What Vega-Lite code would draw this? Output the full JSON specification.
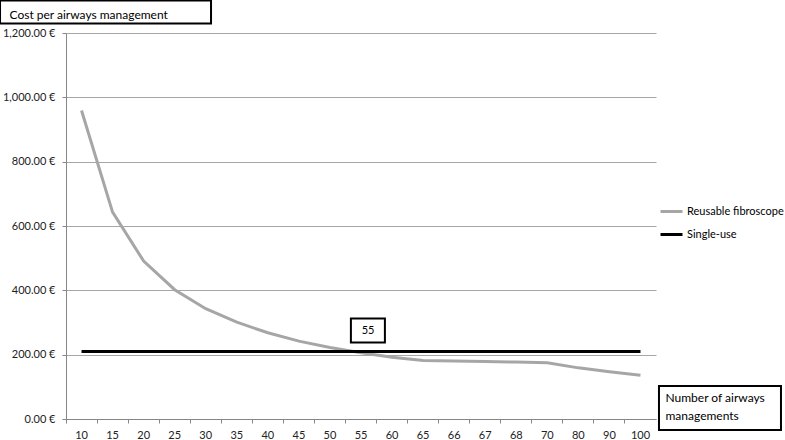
{
  "$schema": "https://vega.github.io/schema/vega-lite/v6.json",
  "width": 590,
  "height": 386,
  "autosize": {"type": "none"},
  "padding": {"left": 66, "top": 33, "right": 129, "bottom": 21},
  "background": "white",
  "data": {
    "values": [
      {"n": 10, "cost": 959, "series": "Reusable fibroscope"},
      {"n": 15, "cost": 643, "series": "Reusable fibroscope"},
      {"n": 20, "cost": 491, "series": "Reusable fibroscope"},
      {"n": 25, "cost": 402, "series": "Reusable fibroscope"},
      {"n": 30, "cost": 343, "series": "Reusable fibroscope"},
      {"n": 35, "cost": 301, "series": "Reusable fibroscope"},
      {"n": 40, "cost": 268, "series": "Reusable fibroscope"},
      {"n": 45, "cost": 242, "series": "Reusable fibroscope"},
      {"n": 50, "cost": 222, "series": "Reusable fibroscope"},
      {"n": 55, "cost": 206, "series": "Reusable fibroscope"},
      {"n": 60, "cost": 192, "series": "Reusable fibroscope"},
      {"n": 65, "cost": 182, "series": "Reusable fibroscope"},
      {"n": 66, "cost": 180, "series": "Reusable fibroscope"},
      {"n": 67, "cost": 179, "series": "Reusable fibroscope"},
      {"n": 68, "cost": 177, "series": "Reusable fibroscope"},
      {"n": 70, "cost": 175, "series": "Reusable fibroscope"},
      {"n": 80, "cost": 159, "series": "Reusable fibroscope"},
      {"n": 90, "cost": 147, "series": "Reusable fibroscope"},
      {"n": 100, "cost": 136, "series": "Reusable fibroscope"},
      {"n": 10, "cost": 210, "series": "Single-use"},
      {"n": 15, "cost": 210, "series": "Single-use"},
      {"n": 20, "cost": 210, "series": "Single-use"},
      {"n": 25, "cost": 210, "series": "Single-use"},
      {"n": 30, "cost": 210, "series": "Single-use"},
      {"n": 35, "cost": 210, "series": "Single-use"},
      {"n": 40, "cost": 210, "series": "Single-use"},
      {"n": 45, "cost": 210, "series": "Single-use"},
      {"n": 50, "cost": 210, "series": "Single-use"},
      {"n": 55, "cost": 210, "series": "Single-use"},
      {"n": 60, "cost": 210, "series": "Single-use"},
      {"n": 65, "cost": 210, "series": "Single-use"},
      {"n": 66, "cost": 210, "series": "Single-use"},
      {"n": 67, "cost": 210, "series": "Single-use"},
      {"n": 68, "cost": 210, "series": "Single-use"},
      {"n": 70, "cost": 210, "series": "Single-use"},
      {"n": 80, "cost": 210, "series": "Single-use"},
      {"n": 90, "cost": 210, "series": "Single-use"},
      {"n": 100, "cost": 210, "series": "Single-use"}
    ]
  },
  "encoding": {
    "x": {
      "field": "n",
      "type": "ordinal",
      "scale": {"type": "band", "paddingInner": 0, "paddingOuter": 0},
      "axis": {
        "title": ["Number of airways", "managements"],
        "titleAngle": 0,
        "titleAlign": "left",
        "titleBaseline": "alphabetic",
        "titleX": 599,
        "titleY": -18,
        "titleLineHeight": 18,
        "titleFontWeight": "normal",
        "titleFontSize": 12,
        "labelAngle": 0,
        "labelPadding": 6,
        "grid": false,
        "domainColor": "#868686",
        "tickColor": "#868686",
        "tickSize": 4,
        "bandPosition": 0
      }
    },
    "y": {
      "field": "cost",
      "type": "quantitative",
      "scale": {"domain": [0, 1200]},
      "axis": {
        "values": [0, 200, 400, 600, 800, 1000, 1200],
        "labelExpr": "format(datum.value, ',.2f') + ' €'",
        "title": "Cost per airways management",
        "titleAngle": 0,
        "titleAlign": "left",
        "titleBaseline": "alphabetic",
        "titleX": -57,
        "titleY": -15,
        "titleFontWeight": "normal",
        "titleFontSize": 12,
        "labelPadding": 7,
        "gridColor": "#a6a6a6",
        "domainColor": "#868686",
        "tickColor": "#868686",
        "tickSize": 4
      }
    }
  },
  "layer": [
    {
      "mark": {"type": "line", "strokeWidth": 3},
      "encoding": {
        "color": {
          "field": "series",
          "type": "nominal",
          "scale": {"domain": ["Reusable fibroscope", "Single-use"], "range": ["#a6a6a6", "#000000"]},
          "legend": {
            "title": null,
            "orient": "none",
            "legendX": 593,
            "legendY": 166,
            "symbolType": "stroke",
            "symbolStrokeWidth": 3,
            "symbolSize": 484,
            "labelFontSize": 11,
            "labelOffset": 3,
            "labelColor": "#000000",
            "rowPadding": 4
          }
        }
      }
    },
    {
      "transform": [{"filter": "datum.n == 55 && datum.series == 'Single-use'"}],
      "mark": {"type": "point", "shape": "M-1.01,-1.2H2.39V1.2H-1.01Z", "size": 400, "filled": false, "stroke": "black", "strokeWidth": 2, "opacity": 1},
      "encoding": {"x": {"datum": 55}, "y": {"datum": 275}}
    },
    {
      "transform": [{"filter": "datum.n == 55 && datum.series == 'Single-use'"}],
      "mark": {"type": "text", "text": "55", "dx": 7, "fontSize": 11, "fill": "#000000"},
      "encoding": {"x": {"datum": 55}, "y": {"datum": 275}}
    },
    {
      "transform": [{"filter": "datum.n == 10 && datum.series == 'Single-use'"}],
      "mark": {"type": "point", "shape": "M-8.15,-3.25H12.95V-0.95H-8.15Z", "size": 400, "filled": false, "stroke": "black", "strokeWidth": 2, "opacity": 1, "clip": false},
      "encoding": {"x": {"datum": 10}, "y": {"datum": 1200}}
    },
    {
      "transform": [{"filter": "datum.n == 100 && datum.series == 'Single-use'"}],
      "mark": {"type": "point", "shape": "M1.85,-3.3H14.05V1.1H1.85Z", "size": 400, "filled": false, "stroke": "black", "strokeWidth": 2, "opacity": 1, "clip": false},
      "encoding": {"x": {"datum": 100}, "y": {"datum": 0}}
    }
  ],
  "config": {
    "font": "Lato",
    "view": {"stroke": null},
    "axis": {"labelFontSize": 11, "labelColor": "#222222", "titleColor": "#000000"}
  }
}
